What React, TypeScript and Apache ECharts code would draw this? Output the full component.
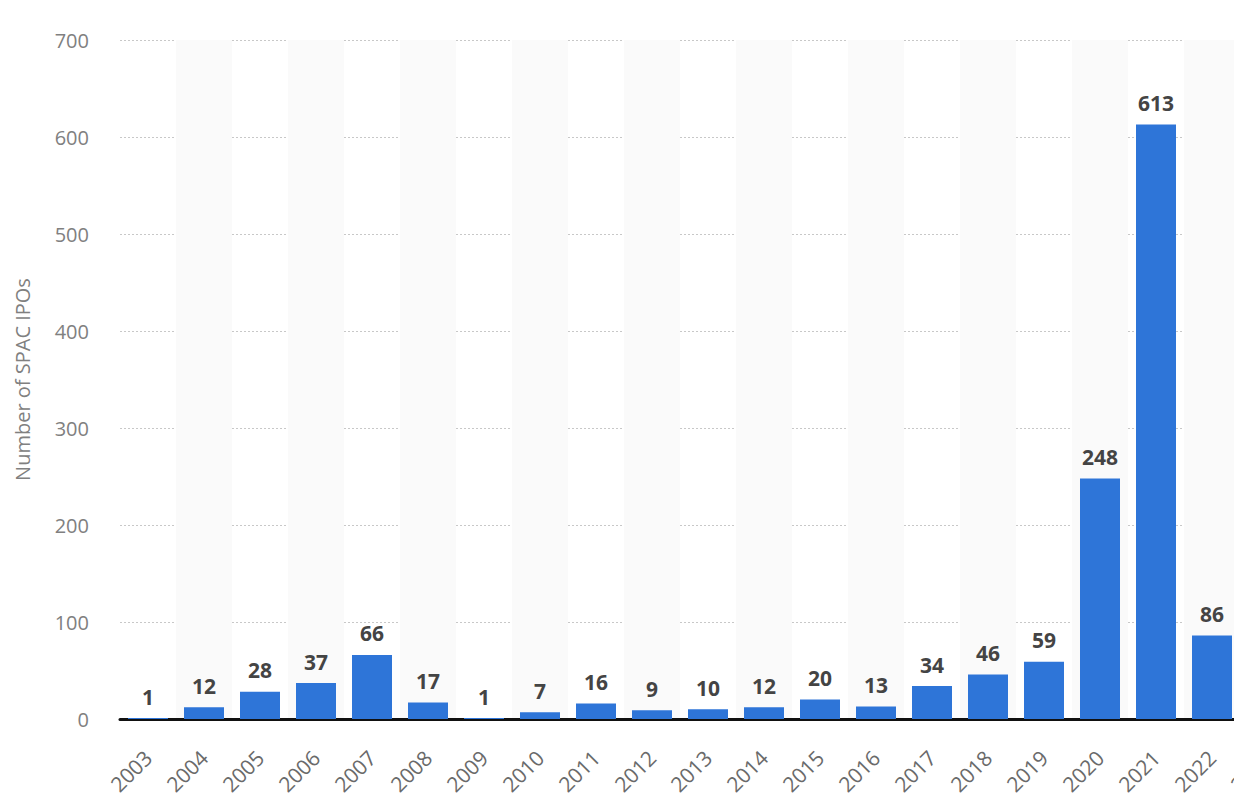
import React, { useEffect, useRef } from "react";
import * as echarts from "echarts";

const years = ["2003","2004","2005","2006","2007","2008","2009","2010","2011","2012","2013","2014","2015","2016","2017","2018","2019","2020","2021","2022","2023"];
const spacIpos = [1,12,28,37,66,17,1,7,16,9,10,12,20,13,34,46,59,248,613,86,31];
const yTicks = [0,100,200,300,400,500,600,700];

export default function App() {
  const ref = useRef<HTMLDivElement>(null);
  useEffect(() => {
    if (!ref.current) return;
    const chart = echarts.init(ref.current, undefined, { renderer: "svg" });
    chart.setOption({
      animation: false,
      grid: { left: 120, right: 4, top: 40, bottom: 80, containLabel: false, outerBoundsMode: "none" },
      xAxis: {
        type: "category",
        data: years,
        axisLine: { lineStyle: { color: "#111", width: 3 } },
        axisTick: { show: false },
        axisLabel: { rotate: 45, color: "#6a6a6a", fontSize: 21, fontFamily: "Open Sans", margin: 35, interval: 0 },
        splitArea: { show: true, areaStyle: { color: ["rgba(255,255,255,0)", "#fafafa"] } },
      },
      yAxis: {
        type: "value",
        min: yTicks[0],
        max: yTicks[yTicks.length - 1],
        interval: 100,
        name: "Number of SPAC IPOs",
        nameLocation: "middle",
        nameGap: 88,
        nameTextStyle: { color: "#808080", fontSize: 20, fontFamily: "Open Sans" },
        axisLine: { show: false },
        axisTick: { show: false },
        axisLabel: { color: "#808080", fontSize: 20, fontFamily: "Open Sans", margin: 31 },
        splitLine: { lineStyle: { color: "#c8c8c8", type: [2, 2], width: 1 } },
      },
      series: [
        {
          type: "bar",
          data: spacIpos,
          barWidth: 40,
          itemStyle: { color: "#2e75d8" },
          label: {
            show: true,
            position: "top",
            distance: 11,
            color: "#444",
            fontSize: 21,
            fontWeight: "bold",
            fontFamily: "Open Sans",
          },
        },
      ],
    });
    return () => chart.dispose();
  }, []);
  return (
    <div style={{ position: "absolute", left: 0, top: 0, width: 1234, height: 799, overflow: "hidden" }}>
      <div ref={ref} style={{ width: 1300, height: 799 }} />
    </div>
  );
}
